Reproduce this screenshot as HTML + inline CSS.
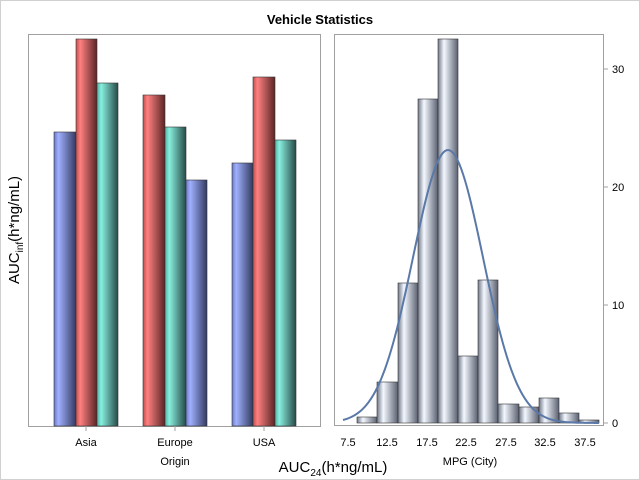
<!DOCTYPE html>
<html><head><meta charset="utf-8"><style>
html,body{margin:0;padding:0;background:#fff}
svg{display:block;font-family:"Liberation Sans","DejaVu Sans",sans-serif}
</style></head><body>
<svg width="640" height="480" viewBox="0 0 640 480" xmlns="http://www.w3.org/2000/svg">
<defs>
<linearGradient id="gb" x1="0" x2="1" y1="0" y2="0"><stop offset="0" stop-color="#6a78c0"/><stop offset="0.2" stop-color="#a0b0ff"/><stop offset="1" stop-color="#333a60"/></linearGradient>
<linearGradient id="gr" x1="0" x2="1" y1="0" y2="0"><stop offset="0" stop-color="#c05050"/><stop offset="0.2" stop-color="#ff8080"/><stop offset="1" stop-color="#5a2525"/></linearGradient>
<linearGradient id="gt" x1="0" x2="1" y1="0" y2="0"><stop offset="0" stop-color="#50b0a0"/><stop offset="0.2" stop-color="#88f0e0"/><stop offset="1" stop-color="#264a46"/></linearGradient>
<linearGradient id="gh" x1="0" x2="1" y1="0" y2="0"><stop offset="0" stop-color="#707888"/><stop offset="0.3" stop-color="#f4f8ff"/><stop offset="1" stop-color="#5a6070"/></linearGradient>
</defs>
<rect x="0.5" y="0.5" width="639" height="479" fill="#fff" stroke="#d0d0d0"/>
<text x="320" y="24" text-anchor="middle" font-size="13" font-weight="bold">Vehicle Statistics</text>
<rect x="28.5" y="34.5" width="292" height="392" fill="#fff" stroke="#a0a0a0"/>
<g stroke="#333" stroke-width="0.6">
<rect x="54" y="132" width="22" height="294" fill="url(#gb)"/>
<rect x="76" y="39" width="21" height="387" fill="url(#gr)"/>
<rect x="97" y="83" width="21" height="343" fill="url(#gt)"/>
<rect x="143" y="95" width="22" height="331" fill="url(#gr)"/>
<rect x="165" y="127" width="21" height="299" fill="url(#gt)"/>
<rect x="186" y="180" width="21" height="246" fill="url(#gb)"/>
<rect x="232" y="163" width="21" height="263" fill="url(#gb)"/>
<rect x="253" y="77" width="22" height="349" fill="url(#gr)"/>
<rect x="275" y="140" width="21" height="286" fill="url(#gt)"/>
</g>
<g stroke="#a0a0a0"><line x1="86" y1="426" x2="86" y2="431"/><line x1="175" y1="426" x2="175" y2="431"/><line x1="264" y1="426" x2="264" y2="431"/></g>
<g font-size="11" text-anchor="middle"><text x="86" y="446">Asia</text><text x="175" y="446">Europe</text><text x="264" y="446">USA</text><text x="175" y="465">Origin</text></g>
<text transform="translate(19,230) rotate(-90)" text-anchor="middle" font-size="15">AUC<tspan font-size="10" dy="4">inf</tspan><tspan dy="-4">(h*ng/mL)</tspan></text>
<text x="333" y="472" text-anchor="middle" font-size="15">AUC<tspan font-size="10" dy="4">24</tspan><tspan dy="-4">(h*ng/mL)</tspan></text>
<rect x="334.5" y="34.5" width="269" height="391" fill="#fff" stroke="#a0a0a0"/>
<g stroke="#333" stroke-width="0.6" fill="url(#gh)">
<rect x="357" y="417" width="20" height="6"/>
<rect x="377" y="382" width="21" height="41"/>
<rect x="398" y="283" width="20" height="140"/>
<rect x="418" y="99" width="20" height="324"/>
<rect x="438" y="39" width="20" height="384"/>
<rect x="458" y="356" width="20" height="67"/>
<rect x="478" y="280" width="20" height="143"/>
<rect x="498" y="404" width="21" height="19"/>
<rect x="519" y="407" width="20" height="16"/>
<rect x="539" y="398" width="20" height="25"/>
<rect x="559" y="413" width="20" height="10"/>
<rect x="579" y="420" width="20" height="3"/>
</g>
<path id="curve" fill="none" stroke="#5a78a8" stroke-width="2"/>
<g stroke="#a0a0a0"><line x1="603" y1="423" x2="608" y2="423"/><line x1="603" y1="305" x2="608" y2="305"/><line x1="603" y1="187" x2="608" y2="187"/><line x1="603" y1="69" x2="608" y2="69"/></g>
<g font-size="11"><text x="612" y="427">0</text><text x="612" y="309">10</text><text x="612" y="191">20</text><text x="612" y="73">30</text></g>
<g font-size="11" text-anchor="middle">
<text x="348" y="446">7.5</text><text x="387" y="446">12.5</text><text x="427" y="446">17.5</text><text x="466" y="446">22.5</text><text x="506" y="446">27.5</text><text x="545" y="446">32.5</text><text x="585" y="446">37.5</text>
<text x="470" y="465">MPG (City)</text></g>
</svg>
<script>
var d="",mu=448,sd=35,py=423,amp=273;
for(var x=343;x<=600;x+=2){var y=py-amp*Math.exp(-Math.pow(x-mu,2)/(2*sd*sd));d+=(x==343?"M":"L")+x+","+y.toFixed(1);}
document.getElementById("curve").setAttribute("d",d);
</script>
</body></html>
